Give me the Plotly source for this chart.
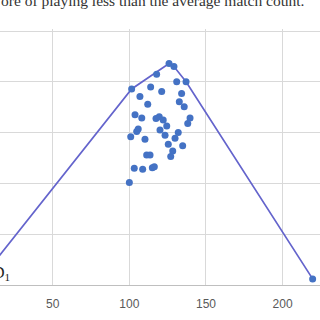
import plotly.graph_objects as go

# Scatter points (x, y)
pts_x = [101.5, 125.9, 129.1, 117.8, 130.9, 137.0, 113.9, 121.1, 106.9, 134.1,
         112.0, 132.6, 135.8, 103.7, 108.1, 117.4, 119.5, 122.1, 139.6, 138.1,
         124.4, 105.8, 104.8, 120.0, 131.9, 100.9, 123.3, 110.2, 129.8, 125.4,
         134.8, 128.3, 127.0, 111.3, 113.5, 103.2, 108.7, 115.0, 116.3, 100.0,
         0.0, 219.6]
pts_y = [38.6, 43.6, 43.0, 41.5, 40.0, 40.0, 39.0, 38.1, 37.1, 37.7,
         35.6, 36.1, 35.1, 33.5, 32.9, 32.8, 33.1, 32.5, 32.9, 31.8,
         31.3, 30.7, 30.2, 30.5, 30.0, 29.2, 29.5, 28.7, 28.9, 27.7,
         27.4, 26.4, 25.3, 25.6, 25.6, 23.0, 22.8, 23.1, 23.3, 20.2,
         0.0, 1.2]

# Envelope line from D1 to D2
line_x = [0.0, 101.5, 125.9, 129.1, 137.0, 219.6]
line_y = [0.0, 38.6, 43.6, 43.0, 40.0, 1.2]

x_ticks = [50, 100, 150, 200]
y_ticks = [0, 10, 20, 30, 40, 50]

fig = go.Figure()
fig.add_trace(go.Scatter(x=line_x, y=line_y, mode="lines",
                         line=dict(color="#6464CC", width=1.7),
                         hoverinfo="skip", showlegend=False))
fig.add_trace(go.Scatter(x=pts_x, y=pts_y, mode="markers",
                         marker=dict(color="#4472C4", size=7),
                         showlegend=False))

fig.add_annotation(text="ore of playing less than the average match count.",
                   xref="paper", yref="paper", x=-0.004, y=1.112, xanchor="left", yanchor="middle",
                   showarrow=False, font=dict(family="Liberation Serif", size=15.5, color="#333333"))
fig.add_annotation(text="D<sub>1</sub>", xref="paper", yref="paper", x=0.038, y=0.045,
                   xanchor="right", yanchor="middle", showarrow=False,
                   font=dict(family="Liberation Serif", size=16, color="#222222"))
fig.add_annotation(text="D<sub>2</sub>", xref="paper", yref="paper", x=0.993, y=0.05,
                   xanchor="left", yanchor="middle", showarrow=False,
                   font=dict(family="Liberation Serif", size=16, color="#222222"))

fig.update_layout(
    width=320, height=320,
    margin=dict(l=0, r=0, t=29, b=35),
    plot_bgcolor="white", paper_bgcolor="white",
    xaxis=dict(range=[15.6, 224.4], tickvals=x_ticks, showgrid=True, gridcolor="#d9d9d9",
               gridwidth=1, zeroline=False, showline=True, linecolor="#bfbfbf", linewidth=1,
               ticks="", ticklabelstandoff=8,
               tickfont=dict(family="Liberation Sans", size=12, color="#595959")),
    yaxis=dict(range=[0, 50.4], tickvals=y_ticks, showgrid=True, gridcolor="#d9d9d9",
               gridwidth=1, zeroline=False, showticklabels=False, ticks=""),
)

fig.write_html("out.html")
